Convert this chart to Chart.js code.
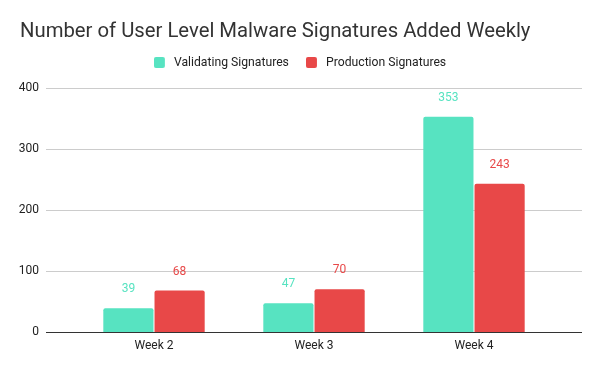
<!DOCTYPE html>
<html><head><meta charset="utf-8">
<script src="https://cdn.jsdelivr.net/npm/chart.js@4/dist/chart.umd.min.js"></script>
<style>html,body{margin:0;padding:0;background:#fff}#wrap{width:600px;height:371px}</style>
</head><body><div id="wrap"><canvas id="c" width="600" height="371"></canvas></div>
<script>
const categories = ["Week 2", "Week 3", "Week 4"];
const validating = [39, 47, 353];
const production = [68, 70, 243];
const yTicks = [0, 100, 200, 300, 400];
const seriesNames = ["Validating Signatures", "Production Signatures"];
const colors = ["#57e3c1", "#e84848"];

function legendSwatch(color) {
  const cv = document.createElement('canvas');
  cv.width = 14; cv.height = 11;
  const g = cv.getContext('2d');
  g.fillStyle = color;
  g.beginPath();
  if (g.roundRect) g.roundRect(0, 0, 11, 11, 2); else g.rect(0, 0, 11, 11);
  g.fill();
  return cv;
}

const gridPlugin = {
  id: 'gridExt',
  beforeInit(chart) {
    const lg = chart.legend;
    if (lg) {
      const f = lg.fit;
      lg.fit = function () { f.call(this); this.height = 48.6; };
    }
  },
  beforeDatasetsDraw(chart) {
    const ctx = chart.ctx, y = chart.scales.y;
    ctx.save();
    yTicks.forEach(v => {
      const py = Math.round(y.getPixelForValue(v)) + 0.5;
      ctx.strokeStyle = v === 0 ? '#333333' : '#cccccc';
      ctx.lineWidth = 1;
      ctx.beginPath(); ctx.moveTo(46, py); ctx.lineTo(582, py); ctx.stroke();
    });
    ctx.restore();
  },
  afterDatasetsDraw(chart) {
    const ctx = chart.ctx;
    ctx.save();
    ctx.font = '12px Roboto';
    ctx.textAlign = 'center'; ctx.textBaseline = 'middle';
    chart.data.datasets.forEach((ds, i) => {
      chart.getDatasetMeta(i).data.forEach((bar, j) => {
        ctx.fillStyle = ds.backgroundColor;
        ctx.fillText(String(ds.data[j]), bar.x, bar.y - 19);
      });
    });
    ctx.restore();
  }
};

new Chart(document.getElementById('c'), {
  type: 'bar',
  data: {
    labels: categories,
    datasets: [
      { label: seriesNames[0], data: validating, backgroundColor: colors[0], borderRadius: 2, borderSkipped: 'bottom', pointStyle: legendSwatch(colors[0]) },
      { label: seriesNames[1], data: production, backgroundColor: colors[1], borderRadius: 2, borderSkipped: 'bottom', pointStyle: legendSwatch(colors[1]) }
    ]
  },
  options: {
    responsive: false,
    animation: false,
    datasets: { bar: { categoryPercentage: 0.64, barPercentage: 0.98 } },
    layout: { padding: { left: 20, right: 20, top: 10, bottom: 4 } },
    plugins: {
      title: { display: true, text: 'Number of User Level Malware Signatures Added Weekly', align: 'start',
        color: '#333333', font: { family: 'Roboto', size: 20.3, weight: 'normal' }, padding: { top: 10, bottom: -5 } },
      legend: { display: true, position: 'top', align: 'center',
        labels: { usePointStyle: true, pointStyleWidth: 14, boxHeight: 11, color: '#222222', font: { family: 'Roboto', size: 12.2 }, padding: 17 } },
      tooltip: { enabled: false }
    },
    scales: {
      x: {
        afterFit(s) { s.height = 35; },
        grid: { display: false, drawTicks: false },
        border: { display: false },
        ticks: { color: '#222222', font: { family: 'Roboto', size: 12 }, padding: 7 }
      },
      y: {
        min: 0, max: 400,
        afterBuildTicks(s) { s.ticks = yTicks.map(v => ({ value: v })); },
        afterFit(s) {
          s.width = 54; s.paddingTop = 0; s.paddingBottom = 0;
          s._computeLabelArea = function () { return undefined; };
        },
        grid: { display: false, drawTicks: false },
        border: { display: false },
        ticks: { color: '#222222', font: { family: 'Roboto', size: 12 }, padding: 35 }
      },
      y2: {
        position: 'right', min: 0, max: 400,
        afterFit(s) { s.width = 26; },
        grid: { display: false, drawTicks: false },
        border: { display: false },
        ticks: { display: false }
      }
    }
  },
  plugins: [gridPlugin]
});
</script></body></html>
